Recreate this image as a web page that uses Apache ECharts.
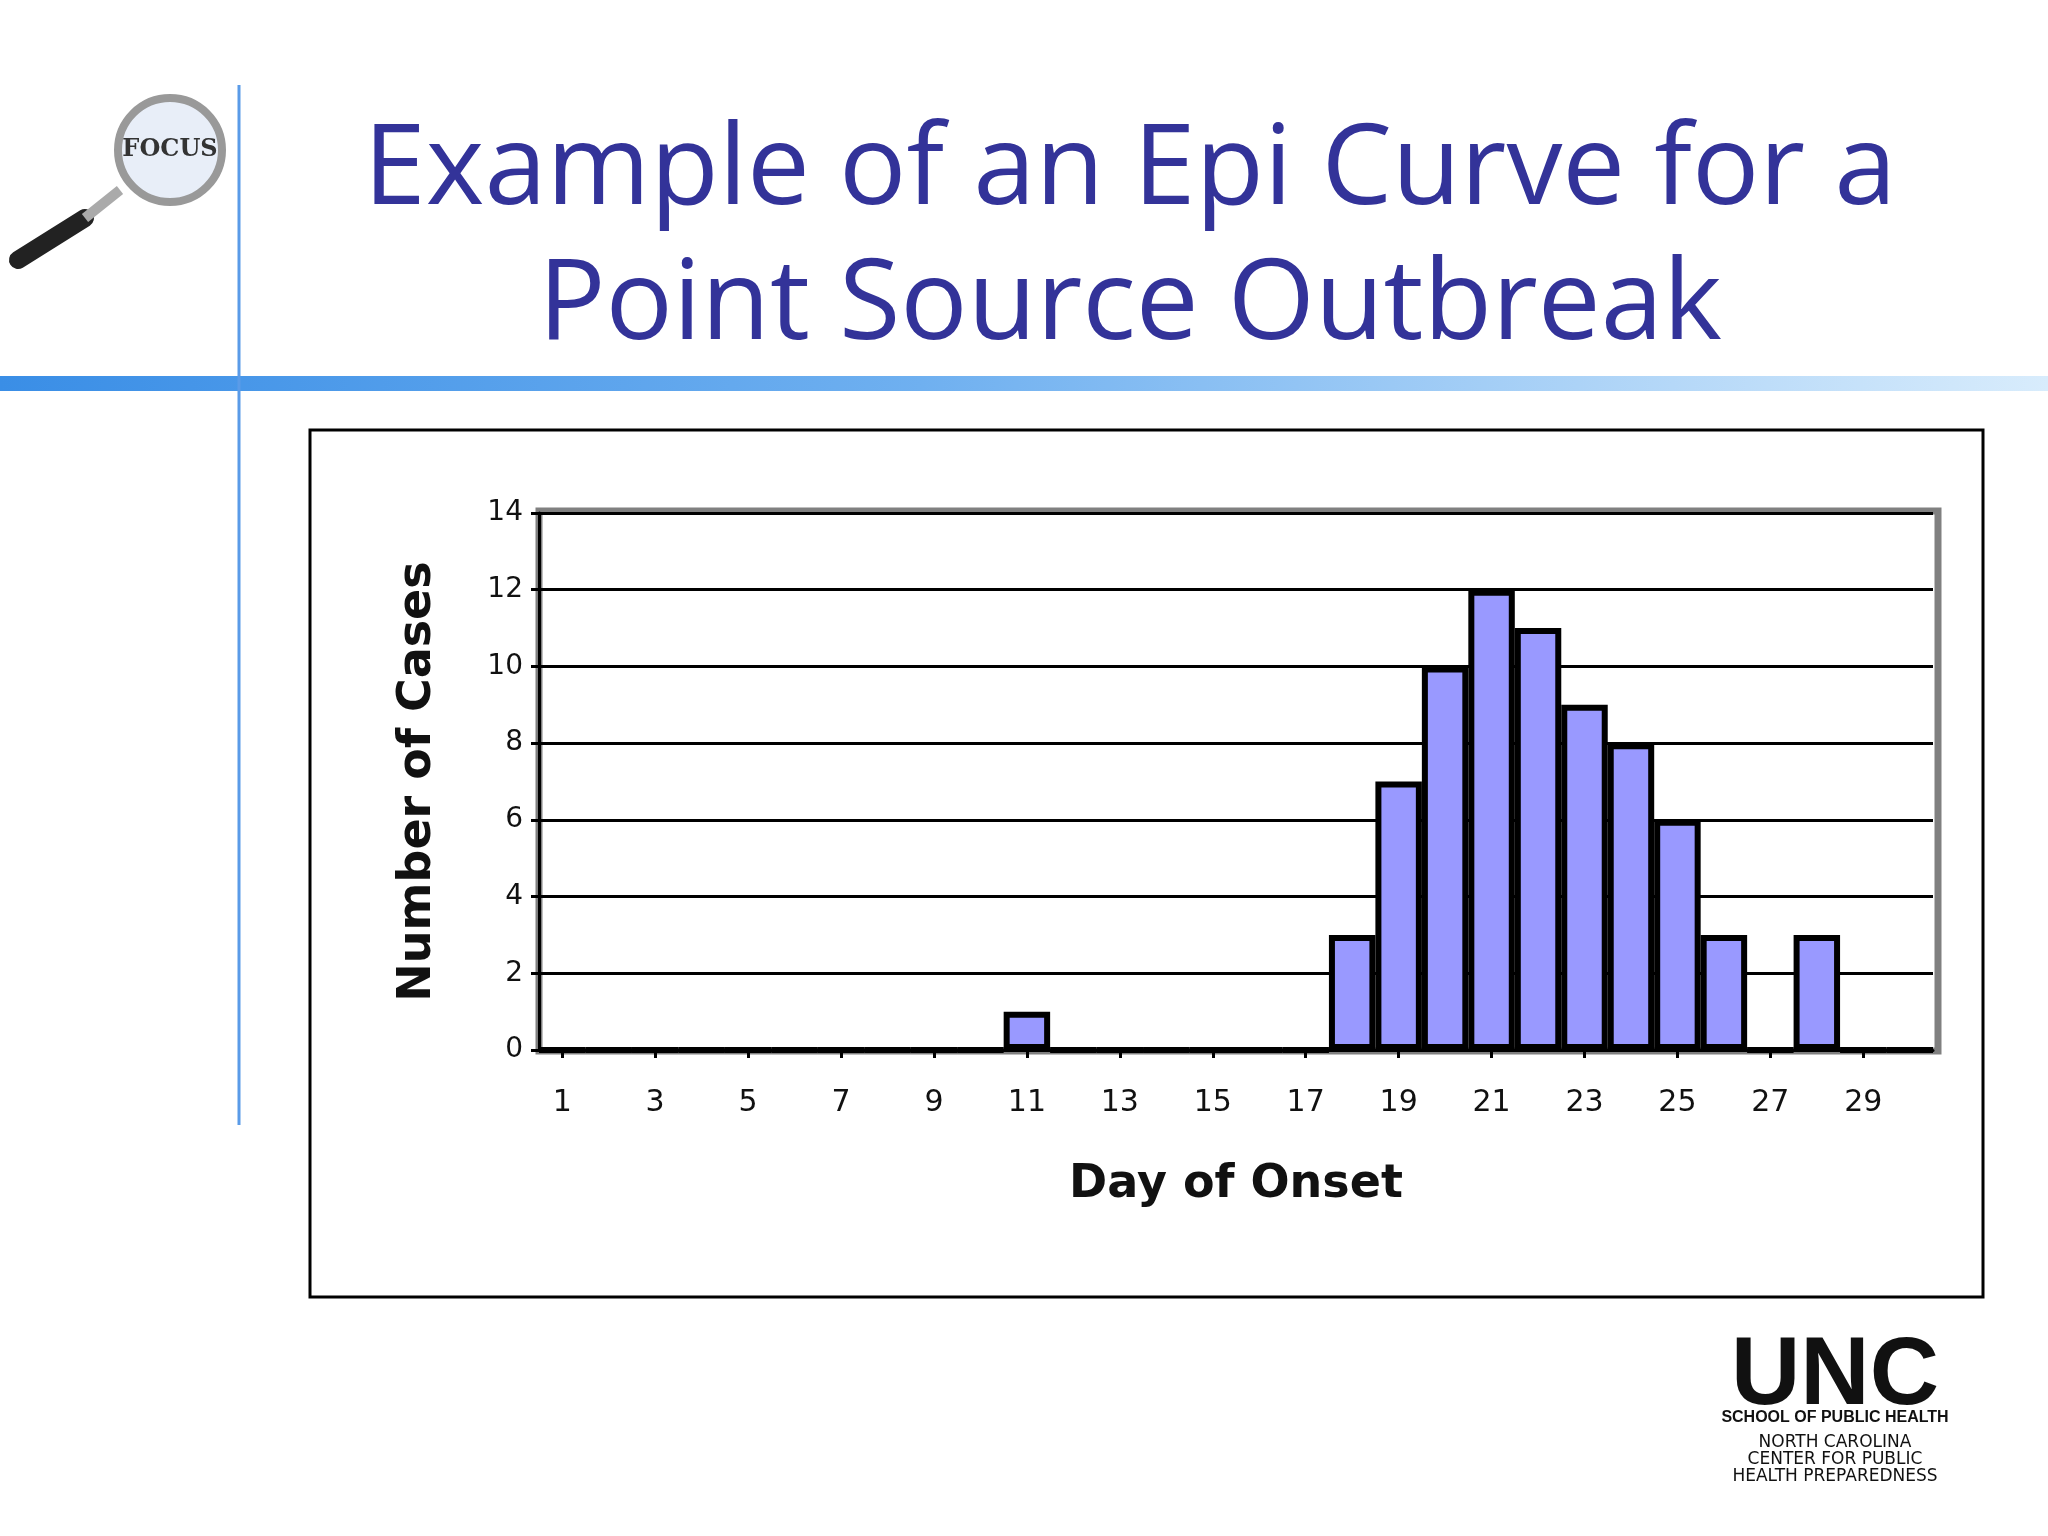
<!DOCTYPE html>
<html><head><meta charset="utf-8">
<script src="https://cdn.jsdelivr.net/npm/echarts@6/dist/echarts.min.js"></script>
<style>html,body{margin:0;padding:0;background:#fff}#c{width:2048px;height:1536px}</style>
</head><body><div id="c"></div>
<script>
const days = Array.from({length:30},(_, i)=>String(i+1));
const cases = [0,0,0,0,0,0,0,0,0,0,1,0,0,0,0,0,0,3,7,10,12,11,9,8,6,3,0,3,0,0];
const yTicks = [0,2,4,6,8,10,12,14];
const chart = echarts.init(document.getElementById('c'));
chart.setOption({
  backgroundColor:'#fff',
  animation:false,
  graphic:[
    {type:'text',x:1130,y:105,style:{text:'Example of an Epi Curve for a\nPoint Source Outbreak',font:'112px "Open Sans"',fill:'#333399',align:'center',lineHeight:135}},
    {type:'rect',shape:{x:0,y:376,width:2048,height:15},style:{fill:new echarts.graphic.LinearGradient(0,0,1,0,[{offset:0,color:'#3a8ee6'},{offset:0.45,color:'#6fb0f0'},{offset:1,color:'#d8ecfc'}])}},
    {type:'line',shape:{x1:239,y1:85,x2:239,y2:1125},style:{stroke:'#5a9be8',lineWidth:3}},
    {type:'rect',shape:{x:310,y:430,width:1673,height:867},style:{fill:'none',stroke:'#000',lineWidth:3}},
    {type:'rect',shape:{x:539,y:511,width:1399,height:540},style:{fill:'none',stroke:'#808080',lineWidth:7}},
    {type:'line',shape:{x1:18,y1:260,x2:85,y2:218},style:{stroke:'#222',lineWidth:18,lineCap:'round'}},
    {type:'line',shape:{x1:85,y1:218,x2:120,y2:190},style:{stroke:'#aaa',lineWidth:10}},
    {type:'circle',shape:{cx:170,cy:150,r:52},style:{fill:'#e8eef8',stroke:'#999',lineWidth:8}},
    {type:'text',x:170,y:138,style:{text:'FOCUS',font:'bold 24px "DejaVu Serif"',fill:'#333',align:'center'}},
    {type:'text',x:1835,y:1330,style:{text:'UNC',font:'bold 96px "Liberation Sans"',fill:'#111',align:'center'}},
    {type:'text',x:1835,y:1410,style:{text:'SCHOOL OF PUBLIC HEALTH',font:'bold 16px "Liberation Sans"',fill:'#111',align:'center'}},
    {type:'text',x:1835,y:1434,style:{text:'NORTH CAROLINA\nCENTER FOR PUBLIC\nHEALTH PREPAREDNESS',font:'17px "DejaVu Sans"',fill:'#111',align:'center',lineHeight:17}}
  ],
  grid:{left:539,top:513,width:1394,height:537},
  xAxis:{type:'category',data:days,boundaryGap:true,
    name:'Day of Onset',nameLocation:'middle',nameGap:112,
    nameTextStyle:{fontSize:46,fontWeight:'bold',color:'#111',fontFamily:'DejaVu Sans'},
    axisLine:{lineStyle:{color:'#000',width:3}},
    axisTick:{show:true,alignWithLabel:true,length:8,lineStyle:{color:'#000',width:3}},
    axisLabel:{interval:1,fontSize:30,color:'#111',margin:38,fontFamily:'DejaVu Sans'}},
  yAxis:{type:'value',min:0,max:14,interval:2,
    name:'Number of Cases',nameLocation:'middle',nameGap:98,
    nameTextStyle:{fontSize:46,fontWeight:'bold',color:'#111',fontFamily:'DejaVu Sans'},
    axisLine:{show:true,lineStyle:{color:'#000',width:3}},
    axisTick:{show:true,length:8,lineStyle:{color:'#000',width:3}},
    axisLabel:{fontSize:28,color:'#111',margin:16,fontFamily:'DejaVu Sans',formatter:v=>yTicks.includes(v)?String(v):''},
    splitLine:{lineStyle:{color:'#000',width:3}}},
  series:[{type:'bar',data:cases,barCategoryGap:'0%',
    itemStyle:{color:'#9999ff',borderColor:'#000',borderWidth:6}}]
});
</script></body></html>
